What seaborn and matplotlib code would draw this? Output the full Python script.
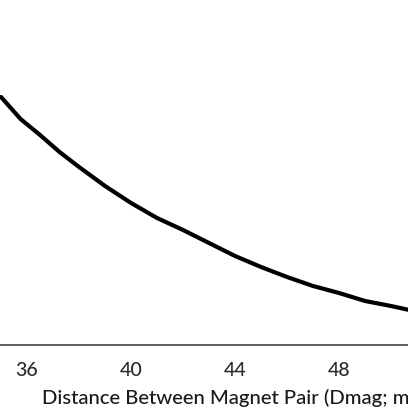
import matplotlib
matplotlib.use("Agg")
import matplotlib.pyplot as plt
import seaborn as sns
import pandas as pd

# Data (distance in mm, response in arbitrary units)
dmag = [35.0, 35.75, 36.5, 37.25, 38.0, 39.0, 40.0, 41.0, 42.0, 43.0, 44.0,
        45.0, 46.0, 47.0, 48.0, 49.0, 50.0, 50.7]
response = [9.92, 9.04, 8.40, 7.72, 7.12, 6.36, 5.68, 5.08, 4.60, 4.08, 3.56,
            3.12, 2.72, 2.36, 2.08, 1.76, 1.56, 1.40]
x_ticks = [36, 40, 44, 48]
x_label = "Distance Between Magnet Pair (Dmag; mm)"

df = pd.DataFrame({"dmag": dmag, "response": response})

sns.set_style("white")
plt.rcParams["font.family"] = ["Lato", "DejaVu Sans"]

fig = plt.figure(figsize=(4.08, 4.08), dpi=100)
ax = fig.add_axes([0, 63 / 408, 1, 345 / 408])

sns.lineplot(data=df, x="dmag", y="response", ax=ax, color="black",
             linewidth=3.0)

ax.set_xlim(34.96, 34.96 + 408 / 26)
ax.set_ylim(0, 13.8)
ax.set_xticks(x_ticks)
ax.set_xticklabels([str(t) for t in x_ticks], fontsize=14, color="#2a2a2a",
                   fontweight="medium")
ax.set_yticks([])
ax.tick_params(axis="x", length=0, pad=12)
ax.set_ylabel("")
for s in ["top", "right", "left"]:
    ax.spines[s].set_visible(False)
ax.spines["bottom"].set_color("#444444")
ax.spines["bottom"].set_linewidth(1.2)

ax.set_xlabel(x_label, fontsize=14.6, color="#1a1a1a", ha="left",
              fontweight="medium")
ax.xaxis.set_label_coords(42 / 408, -44 / 345, transform=ax.transAxes)
ax.xaxis.label.set_va("top")

fig.savefig("out.png", dpi=100)
